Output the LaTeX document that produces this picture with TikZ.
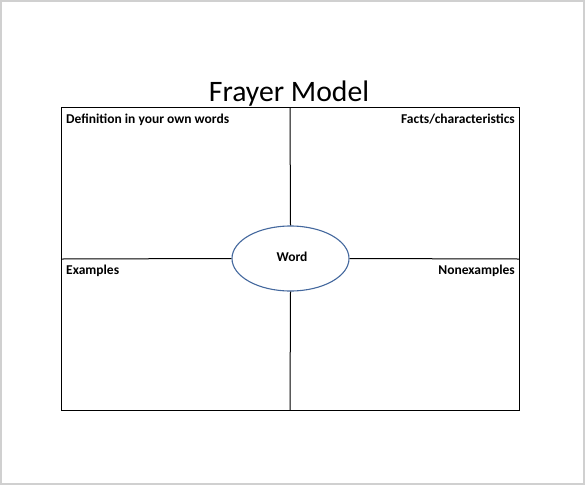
\documentclass[tikz,border=0pt]{standalone}
\usepackage{fontspec}
\setmainfont{Carlito}
\usetikzlibrary{shapes.geometric}
\definecolor{frameg}{RGB}{208,208,208}
\definecolor{ellblue}{RGB}{68,104,158}
\tikzset{
  cell/.style={draw=black, line width=1pt},
  lbl/.style={font=\bfseries\fontsize{13.5}{15}\selectfont, inner sep=0pt},
}
\begin{document}
\begin{tikzpicture}[x=1pt,y=-1pt]
\useasboundingbox (0,0) rectangle (585,485);
\fill[white] (0,0) rectangle (585,485);
\draw[frameg, line width=1.5pt] (1,1) rectangle (584,484);
\node[font=\fontsize{29.7}{34}\selectfont, inner sep=0pt, anchor=base] (title) at (289,101) {Frayer Model};
\coordinate (tl) at (61,107);
\coordinate (br) at (519.5,410);
\coordinate (tm) at (290,107);
\coordinate (bm) at (290,410);
\coordinate (lm) at (61,259);
\coordinate (rm) at (519.5,259);
\draw[cell] (tl) rectangle (br);
\node[ellipse, draw=ellblue, line width=1.1pt, fill=white, minimum width=117pt, minimum height=65pt, inner sep=0pt] (word) at (290.5,258.5) {};
\draw[cell] (tm) -- (word.north);
\draw[cell] (word.south) -- (bm);
\draw[cell] (lm) -- (word.west);
\draw[cell] (word.east) -- (rm);
\node[lbl, anchor=base] (wordt) at (292,261) {Word};
\node[lbl, anchor=base west] (def) at (66,123) {Definition in your own words};
\node[lbl, anchor=base east] (facts) at (515,123) {Facts/characteristics};
\node[lbl, anchor=base west] (ex) at (66,274) {Examples};
\node[lbl, anchor=base east] (nonex) at (515,274) {Nonexamples};
\end{tikzpicture}
\end{document}
